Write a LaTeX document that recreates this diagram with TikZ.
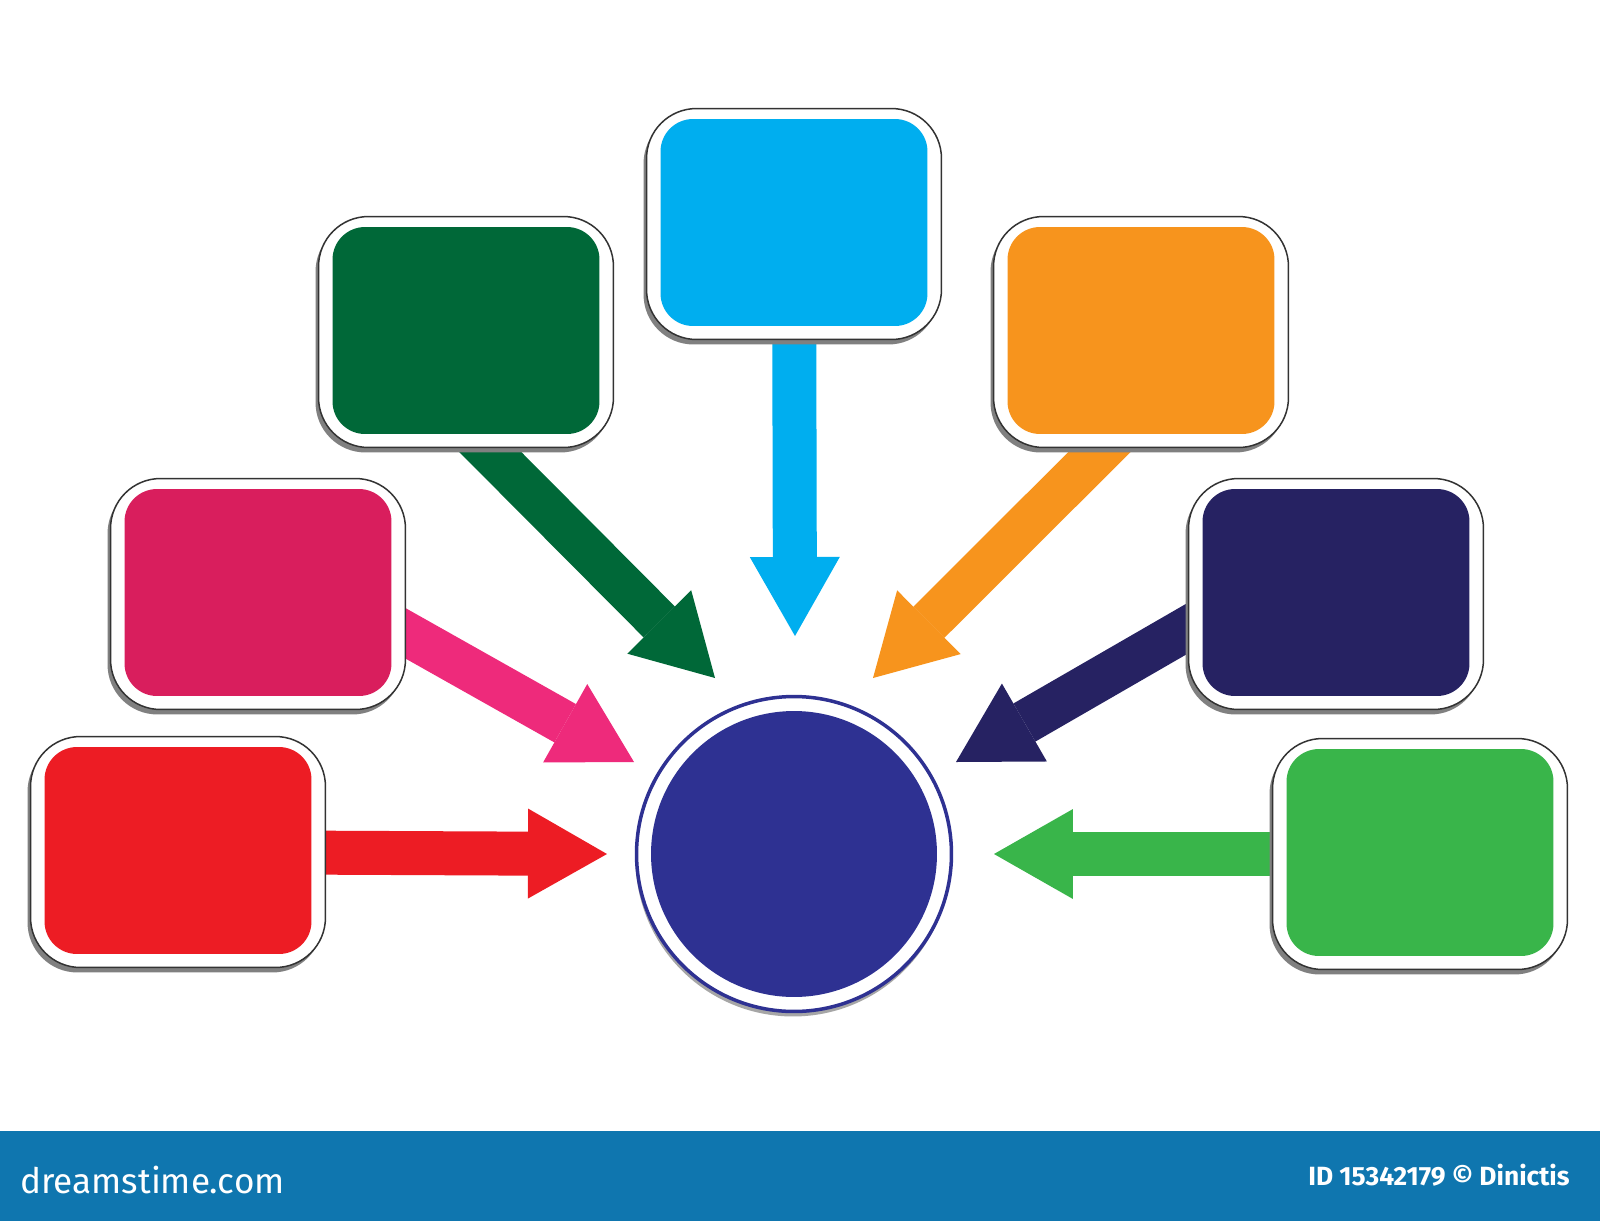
\documentclass[tikz,border=0pt]{standalone}
\usepackage{fontspec}
\newfontfamily\barfont{Fira Sans}
\usetikzlibrary{arrows.meta,shadows,backgrounds}

\definecolor{boxred}{HTML}{ED1C24}
\definecolor{boxpink}{HTML}{D91E5D}
\definecolor{boxdkgreen}{HTML}{006838}
\definecolor{boxsky}{HTML}{00AEEF}
\definecolor{boxorange}{HTML}{F7941D}
\definecolor{boxnavy}{HTML}{262262}
\definecolor{boxgreen}{HTML}{39B54A}
\definecolor{hubblue}{HTML}{2E3192}
\definecolor{arrpink}{HTML}{EE2A7B}
\definecolor{barblue}{HTML}{0F76AF}

\tikzset{
  frame/.style={draw=black!80, line width=0.3mm, fill=white, rounded corners=10mm,
    minimum width=59mm, minimum height=46.2mm, inner sep=0pt,
    drop shadow={shadow xshift=-0.6mm, shadow yshift=-1mm, fill=black!50, opacity=1}},
  panel/.style={rounded corners=6.5mm, minimum width=53.4mm, minimum height=41.4mm, inner sep=0pt},
  fatarrow/.style={line width=8.8mm, -{Triangle[length=15.8mm, width=18mm, line width=0pt]},
    shorten <=-5mm},
}

\begin{document}
\begin{tikzpicture}[x=0.02cm, y=-0.02cm]
  \useasboundingbox (0,0) rectangle (1600,1221);

  % boxes round the hub
  \foreach \name/\cx/\cy/\col in {red/178/852/boxred, pink/258/594/boxpink,
      dkgreen/466/332/boxdkgreen, sky/794/224/boxsky, orange/1141/332/boxorange,
      navy/1336/594/boxnavy, green/1420/854/boxgreen}{
    \node[frame] (box-\name) at (\cx,\cy) {};
    \node[panel, fill=\col] (fill-\name) at ([yshift=0.3mm]box-\name.center) {};
  }

  % hub
  \node[circle, draw=hubblue, line width=0.7mm, fill=white, minimum size=63mm, inner sep=0pt,
    drop shadow={shadow xshift=-0.2mm, shadow yshift=-1mm, fill=black!35, opacity=1}] (hub) at (794,854) {};
  \node[circle, fill=hubblue, minimum size=57.2mm, inner sep=0pt] (hubfill) at (hub) {};

  % arrow tips
  \coordinate (tip-red) at (607,854);
  \coordinate (tip-green) at (994,854);
  \coordinate (tip-sky) at (795,636);
  \coordinate (tip-pink) at (634,762);
  \coordinate (tip-navy) at (956,762);
  \coordinate (tip-dkgreen) at (715,678);
  \coordinate (tip-orange) at (873,678);

  % arrows behind the boxes
  \begin{scope}[on background layer]
    \fill[white] (0,0) rectangle (1600,1221);
    \draw[fatarrow, boxred] (box-red) -- (tip-red);
    \draw[fatarrow, boxgreen] (box-green) -- (tip-green);
    \draw[fatarrow, boxsky] (box-sky) -- (tip-sky);
    \draw[fatarrow, arrpink] (box-pink.-15) -- (tip-pink);
    \draw[fatarrow, boxnavy] (box-navy.193) -- (tip-navy);
    \draw[fatarrow, boxdkgreen] (box-dkgreen.-80) -- (tip-dkgreen);
    \draw[fatarrow, boxorange] (box-orange.-108) -- (tip-orange);
  \end{scope}

  % credit bar
  \fill[barblue] (0,1131) rectangle (1600,1221);
  \node[anchor=base west, inner sep=0pt, text=white, font=\barfont\fontsize{20}{24}\selectfont] (site) at (20,1193) {dreamstime.com};
  \node[anchor=base east, inner sep=0pt, text=white, font=\barfont\bfseries\fontsize{15}{18}\selectfont] (credit) at (1570,1185) {ID 15342179 © Dinictis};
\end{tikzpicture}
\end{document}
